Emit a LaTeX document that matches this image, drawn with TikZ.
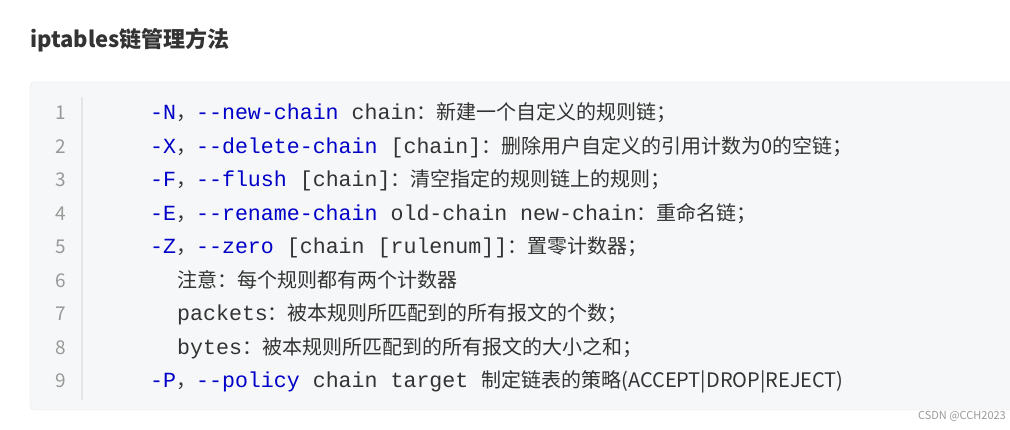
\documentclass[tikz,border=0pt]{standalone}
\usepackage{fontspec}
\setmainfont{Noto Sans CJK SC}
\newfontfamily\cjk{Noto Sans CJK SC}
\newfontfamily\mono{Liberation Mono}
\definecolor{txt}{HTML}{333333}
\definecolor{opt}{HTML}{0000C8}
\definecolor{lnum}{HTML}{999999}
\definecolor{boxfill}{HTML}{F6F7F8}
\definecolor{boxline}{HTML}{E3E5E8}
\newcommand{\Mo}[1]{{\mono\fontsize{21.6}{24}\selectfont #1}}
\newcommand{\Op}[1]{{\color{opt}\Mo{#1}}}
\newcommand{\Cj}[1]{{\cjk\fontsize{20}{24}\selectfont #1}}
\newcommand{\Sp}{\Mo{\hbox to 13pt{}}}
\tikzset{codeline/.style={anchor=base west,inner sep=0,text=txt},
 num/.style={anchor=base,inner sep=0,text=lnum,font=\cjk\fontsize{19}{24}\selectfont}}
\begin{document}
\begin{tikzpicture}[x=1pt,y=-1pt]
\useasboundingbox (0,0) rectangle (1010,430);
\node[anchor=base west,inner sep=0,text=txt,font=\cjk\bfseries\fontsize{22}{26}\selectfont] (title) at (30,48) {iptables链管理方法};
\draw[boxline,fill=boxfill,rounded corners=5] (30,82) rectangle (1020,410);
\draw[boxline,line width=1.5] (82,97) -- (82,400);
\foreach \i/\y in {1/120,2/153.5,3/187,4/220.5,5/254,6/287.5,7/321,8/354.5,9/388}
  \node[num] (n\i) at (61,\y) {\i};
\node[codeline] (l1) at (150,120) {\Op{-N}\Cj{，}\Op{--new-chain}\Sp\Mo{chain}\Cj{：新建一个自定义的规则链；}};
\node[codeline] (l2) at (150,153.5) {\Op{-X}\Cj{，}\Op{--delete-chain}\Sp\Mo{[chain]}\Cj{：删除用户自定义的引用计数为0的空链；}};
\node[codeline] (l3) at (150,187) {\Op{-F}\Cj{，}\Op{--flush}\Sp\Mo{[chain]}\Cj{：清空指定的规则链上的规则；}};
\node[codeline] (l4) at (150,220.5) {\Op{-E}\Cj{，}\Op{--rename-chain}\Sp\Mo{old-chain}\Sp\Mo{new-chain}\Cj{：重命名链；}};
\node[codeline] (l5) at (150,254) {\Op{-Z}\Cj{，}\Op{--zero}\Sp\Mo{[chain}\Sp\Mo{[rulenum]]}\Cj{：置零计数器；}};
\node[codeline] (l6) at (177,287.5) {\Cj{注意：每个规则都有两个计数器}};
\node[codeline] (l7) at (177,321) {\Mo{packets}\Cj{：被本规则所匹配到的所有报文的个数；}};
\node[codeline] (l8) at (177,354.5) {\Mo{bytes}\Cj{：被本规则所匹配到的所有报文的大小之和；}};
\node[codeline] (l9) at (150,388) {\Op{-P}\Cj{，}\Op{--policy}\Sp\Mo{chain}\Sp\Mo{target}\Sp\Cj{制定链表的策略(ACCEPT|DROP|REJECT)}};
\node[anchor=base east,inner sep=0,text=lnum,font=\cjk\fontsize{11}{13}\selectfont] (wm) at (1006,420) {CSDN @CCH2023};
\end{tikzpicture}
\end{document}
